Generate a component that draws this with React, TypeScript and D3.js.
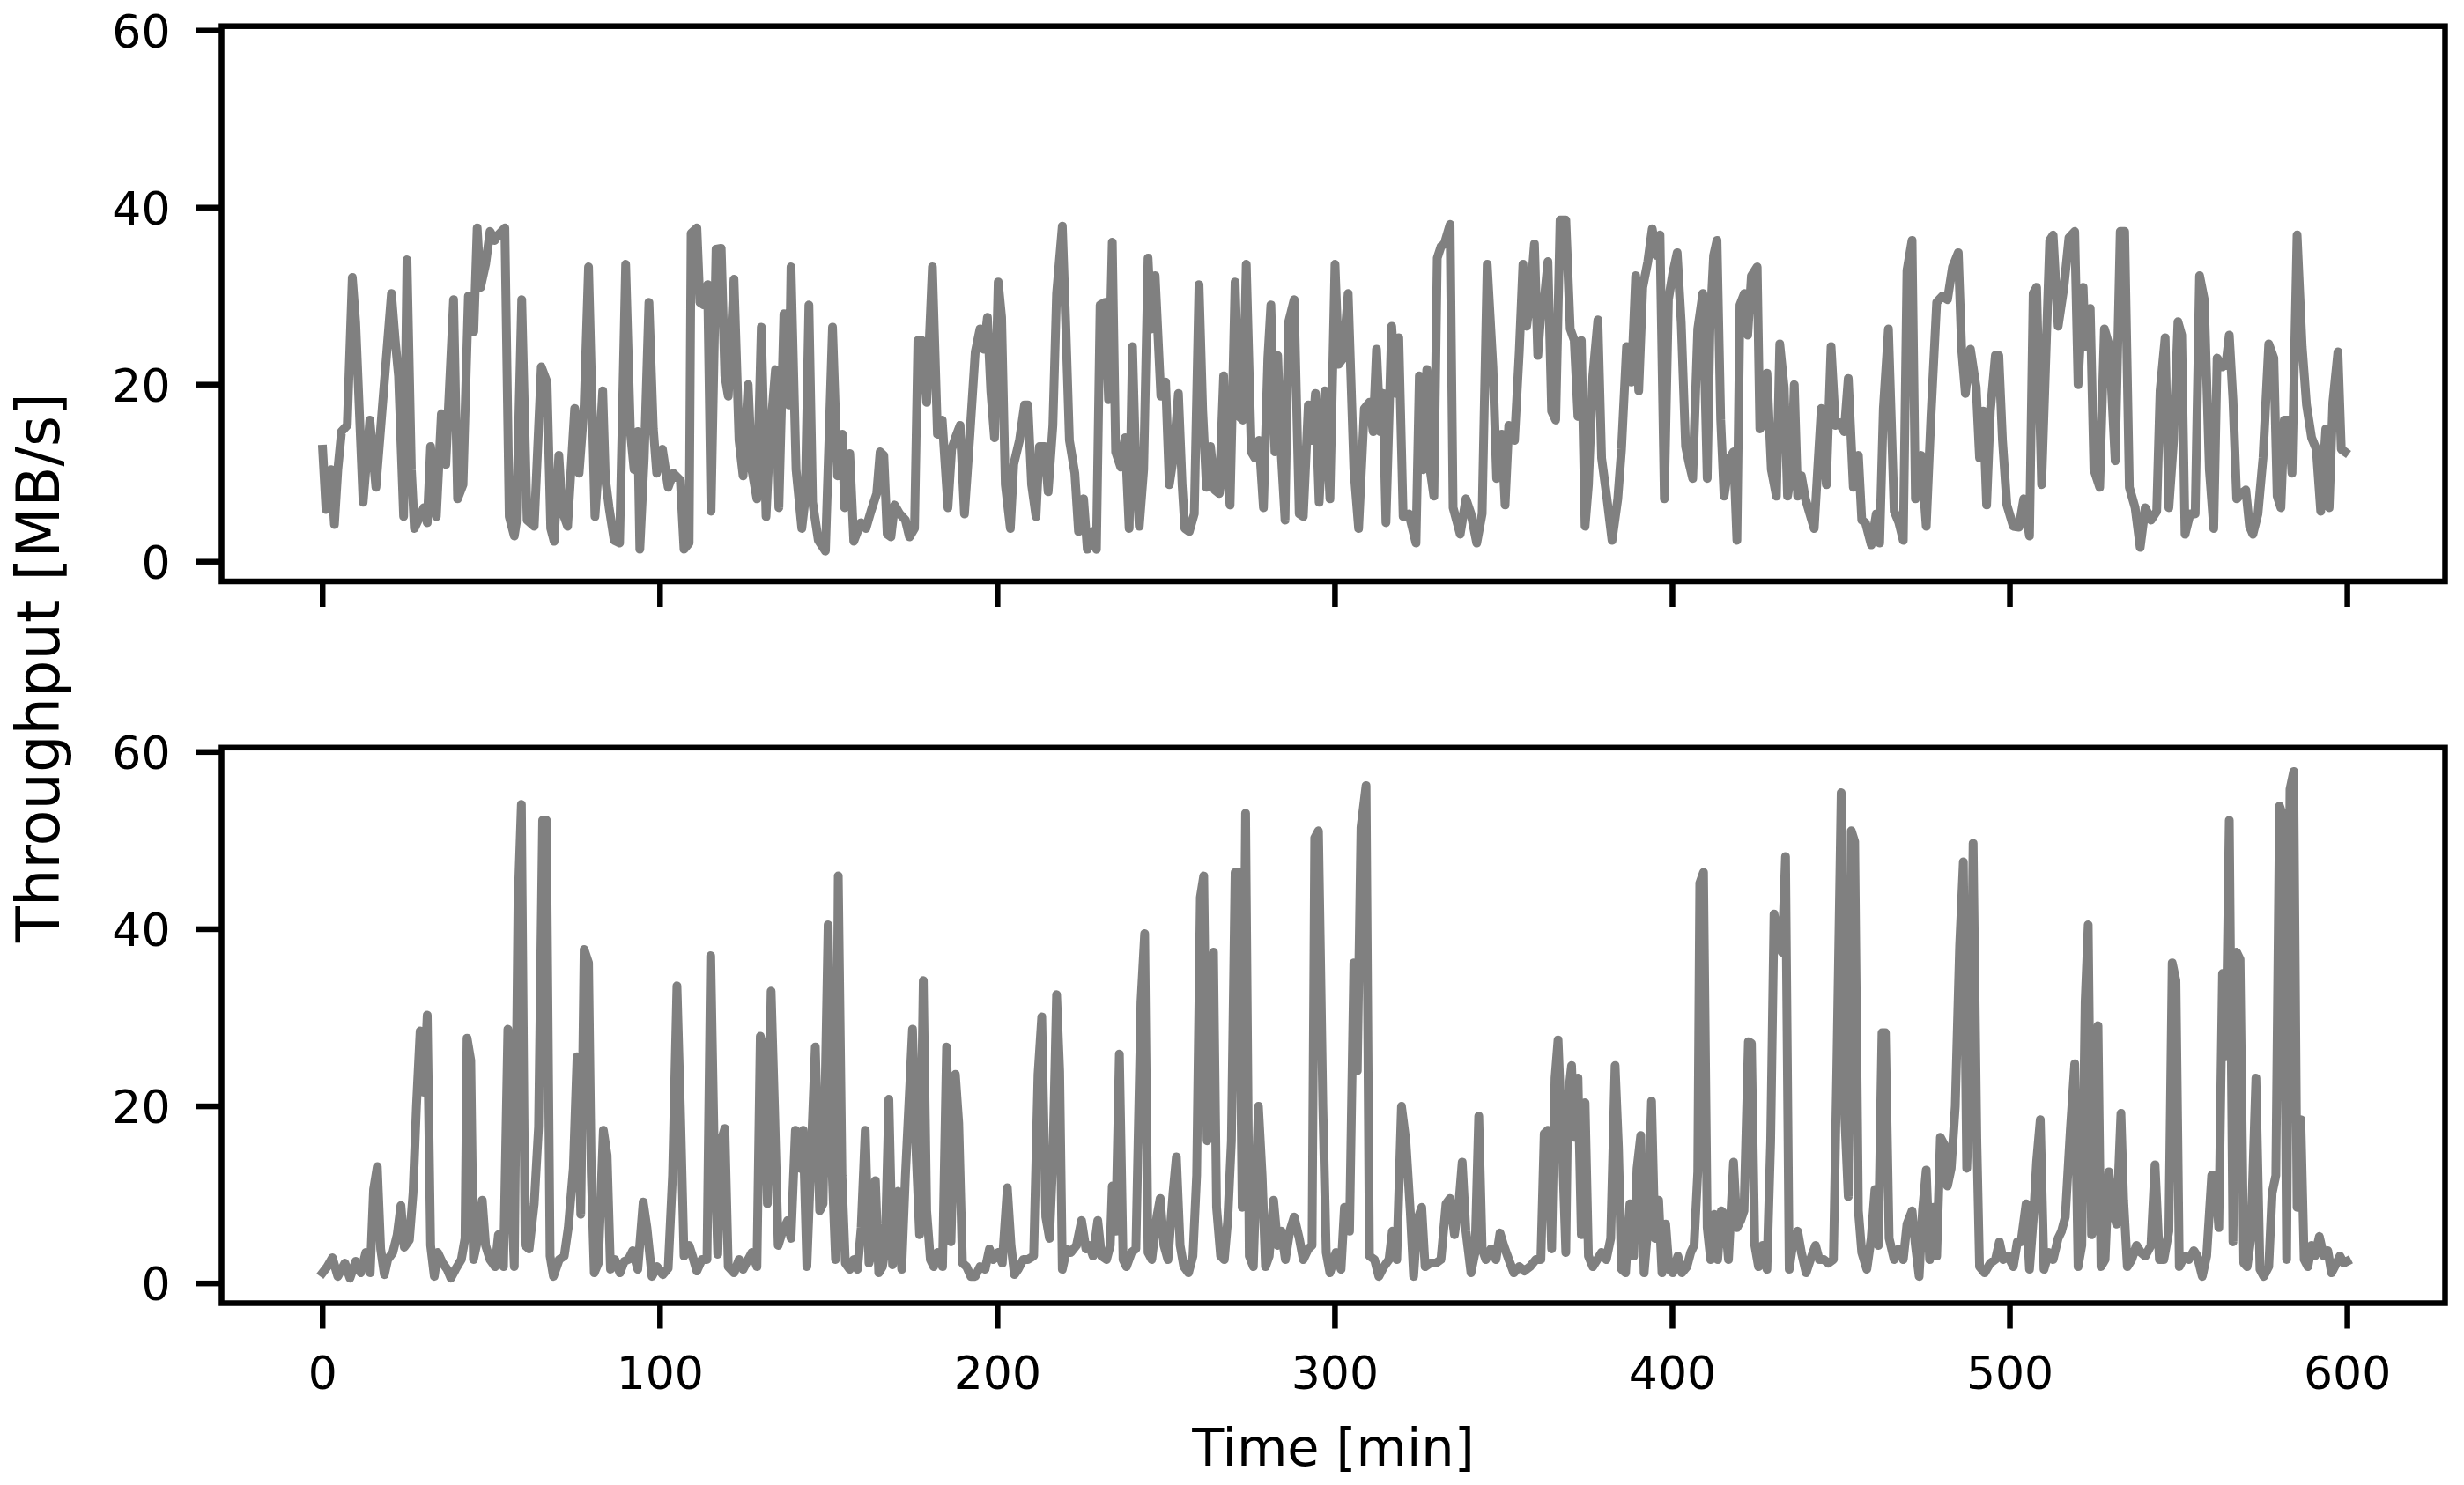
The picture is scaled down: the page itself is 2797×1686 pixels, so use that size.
import React from "react";
import * as d3 from "d3";

// ---- data ----
const topTime = [0,1,2.5,3.5,4.5,5.6,7.3,8.8,9.8,12,14,15.8,18.3,20.4,21.5,22.5,24,25,26.3,27.2,30,31,32,33.7,35.2,36.5,38.8,40,41.6,43.2,44.8,45.8,46.8,48.3,49.6,51,52,54,55.3,56.8,57.4,59,60.6,62.7,64.8,66.5,67.6,68.6,70,71,72.6,74.7,76,77.5,78.8,80.7,81.7,83,83.8,84.9,86.4,88,89.8,91.2,92.3,93.4,94,95.3,96.7,98,99,100.7,102.4,103.9,106,107.1,108.6,109.2,110.9,111.8,113,114.1,115.1,116.6,118.1,119.2,120.2,121.9,123.4,124.6,126.1,127.2,128.7,130,131.4,132.5,134.2,135.2,136.7,138.2,138.8,140.3,142,143,144.1,145.2,146.9,149,151.1,152.6,154,154.7,156.2,157.4,159.5,161,162.5,164.2,165.2,166.3,167.3,168.4,169.5,171,172.7,173.9,175.4,176.4,177.5,179,180.7,182.2,183.6,185.3,186.4,187.5,188.9,190.2,191.7,193.4,194.8,195.9,197,198,199.1,200.2,201.2,202.3,203.8,204.8,206.5,208,209,210.1,211.4,212.4,213.9,215,216.4,217.5,219.2,220.2,221.3,222.9,224,225.5,226.6,228,229.3,230.4,231.9,232.9,234,235,236.5,237.8,239,240,241,242,243.3,244.6,245.6,246.7,248.4,249.8,250.9,252.2,253.6,254.7,255.5,256.8,258.3,259.7,260.8,261.9,263.1,264.4,265.7,267,267.8,268.9,270.4,271.6,272.7,273.7,275.2,276.3,277.5,278.8,280.1,281,282.2,283,284.1,285.2,286.2,287.9,289.4,290.6,292.1,293.2,294.2,295.3,297,298.5,300,301.1,302.4,303.9,305.6,307,308.7,310.2,311.3,312.3,313.4,314.2,315.1,316.8,318.1,318.9,320.2,321.9,324,325,326.1,327.2,328.2,329.3,330.3,331.4,332.4,334.1,335,337.1,338.8,340.3,342,343.6,345.1,346.8,347.9,349.4,350.4,351.5,353.2,354.6,355.7,356.8,357.8,359.1,360.1,361.2,362,363.1,364.2,365.4,366.7,368.4,369.7,370.9,372,373,374.1,375.1,376.4,377.9,379,380.6,382.1,383.8,384.9,386.4,387.8,389.1,390,391.2,392.7,394,395.2,396.3,397.6,398.8,400.1,401.4,402.6,403.9,405,406,407.5,409,410.3,411.1,412.2,413.2,414.3,415.3,417,418.1,419.1,420,421.3,422.3,423.4,425.1,425.9,427,428,429.3,430.8,431.8,433.1,434.1,435.2,436.1,437.1,438.2,439.4,440.7,442,444.1,445.6,447,448.3,449.4,450.9,452.1,453.6,455.1,456.1,457.2,458.9,460.4,461.4,462.5,464,465.7,467.1,468.4,469.5,471,472,473.7,475.2,476.6,478.3,480,481.5,483,484.7,485.7,486.8,488.3,490,491,492.1,493.1,494.2,495.7,496.7,497.8,499.1,501,502.7,504.1,505.8,506.9,507.9,509.4,510.7,511.8,512.8,514.3,516,517.5,519.2,520.2,521.7,522.3,523.8,524.9,526.6,528,529.5,531.2,532.7,534,535.4,537.1,538.6,540.1,541.8,543.5,544.5,546,547.1,548.5,549.8,550.9,551.9,553.4,554.9,556.2,557.6,559.1,560.4,561.4,562.9,564,565,566.1,567.2,568.6,569.9,571,572,573.5,575,576.7,578.2,579.2,580.3,581.3,582.6,583.6,585.1,586.6,587.9,589.4,590.8,592.1,593.6,594.6,595.7,597.2,598.2,599.3];
const topThroughput = [12.7,5.9,10.4,4.2,10.4,14.7,15.4,32.1,27,6.7,16,8.4,20.3,30.3,25,21,5.1,34.1,10.4,3.75,6.1,4.4,13,5.1,16.7,11,29.6,7.1,8.7,30,26,37.7,31,33.6,37.3,36.3,36.9,37.7,5.1,2.9,4.4,29.6,4.7,4,22,20.3,3.75,2.3,12,5.7,4,17.3,10,17.7,33.3,5.1,10.4,19.3,9.4,6.1,2.4,2.1,33.6,14.7,10.4,14.7,1.4,11.7,29.3,15,10,12.7,8.4,10,9.2,1.4,2.1,37.1,37.7,29.3,29,31.3,5.7,35.3,35.4,21,18.7,31.9,13.7,9.7,20,10.4,7.1,26.5,5.1,13.7,21.7,6.1,28,17.7,33.3,10.4,3.75,7.1,29,6.7,2.4,1.2,26.5,9.7,14.4,6.1,12.2,2.3,4.4,3.75,5.7,7.7,12.4,12,3.1,2.8,6.4,5.4,4.7,2.8,3.75,25,25,18,33.3,14.4,16,6.1,12.7,14,15.4,5.4,13.7,23.7,26.3,24,27.6,19.3,14,31.6,27.6,8.7,3.75,11,13.7,17.7,17.7,8.7,5.1,13,13,7.9,15.4,30.3,37.9,27,13.7,10,3.4,7.1,1.4,3.4,1.4,29,29.3,18.3,36.1,12.4,10.7,14,3.75,24.3,10.4,4,10.4,34.3,26.3,32.3,18.7,20.3,8.7,12,19,8.7,3.75,3.4,5.4,31.3,17,8.4,13,8.1,7.7,21,10.4,6.4,31.6,16.4,16,33.6,12.4,11.7,13.7,6.1,23,29,12.4,23.3,12,4.7,27,29.6,5.4,5.1,17.7,13.7,19,6.7,19.3,7.1,33.6,22.3,23,30.3,10.4,3.75,17.3,18,14.7,24,14.7,19,4.4,26.6,19,25.3,5.1,5.4,2.1,21,10.4,21.7,10.4,7.4,34.3,35.6,35.9,38.1,6.1,3.1,7.1,5.4,2.1,5.4,33.6,22,9.4,14.4,6.4,15.4,13.7,23.7,33.6,26.6,29.6,35.9,23.3,29,29.6,33.9,17,16,38.6,38.6,26.3,25,16.4,25,4,8.7,21,27.3,11.7,7.1,2.4,7.1,12.7,24.3,20.3,32.3,19.3,31,33.9,37.6,34.6,36.9,7.1,29.6,32.6,34.9,27,13,11,9.4,26.3,30.3,9.4,26.3,34.6,36.3,16,7.4,11.7,12.4,2.4,29,30.3,25.6,32.3,33.3,15,15.7,21.3,10.4,7.4,24.6,19.7,7.4,10,20,7.4,9.7,7.1,5.4,3.75,17.3,8.7,24.3,15.4,15.7,14.7,20.7,8.4,12,4.7,4.4,1.9,5.4,2.1,17.3,26.3,5.7,4.4,2.4,32.9,36.3,7.1,12,4,16.4,29.3,30,29.6,33.3,34.9,24,19,24,19.7,11.7,17,6.4,17,23.3,23.3,13.7,6.4,4,3.9,7.1,2.9,30.3,31,8.7,23.7,36.3,36.9,26.6,31,36.6,37.3,20,31,24.3,28.6,10.4,8.4,26.3,24.3,11.4,37.3,37.3,8.4,6.1,1.6,6.1,4.7,5.7,19.3,25.3,6.1,13.7,27.1,25.6,3.1,5.4,5.4,32.3,29.6,10.4,3.75,23,22,22.3,25.6,18.3,7.1,7.7,8.1,4,3.1,5.4,11.7,24.6,23,7.4,6.1,16,16,10,36.9,24.3,17.7,14,12.7,5.7,15,6.1,18,23.7,12.7,12.4];

const bottomTime = [0,1.4,2.9,4.5,6.6,8.1,9.8,11.3,12.8,14.1,15.1,16.2,17.2,18.3,19.3,20.8,22.1,23.2,24.2,25.7,26.8,27.8,28.9,30,31,32,33.1,34.1,35.6,36.9,38,39.4,41.1,42.2,42.8,43.9,44.7,45.8,47.3,48.3,49.6,51.1,52.1,53.6,54.9,55.7,56.8,57.9,58.9,60,61.2,62.7,64,65.2,66.3,67.4,68.4,70.1,71.6,72.8,74.3,75.4,76.5,77.5,78.8,79.6,80.5,81.7,83.2,84.3,85.3,86.6,88.1,89.4,90.6,91.9,93.4,95,96.1,97.6,99.1,100.8,102.4,103.7,105,106,107.1,108.6,109.6,110.9,112.4,113.9,115,116,117.1,118.1,119.2,120.2,121.9,123.4,124.6,126.1,127.2,128.7,129.7,130.8,131.8,132.9,133.9,135,136.3,137.8,138.8,140.1,141.4,142.4,143.5,144.8,146,147.3,148.3,149.8,150.9,152,152.8,153.9,154.9,156.2,157.4,158.5,159.6,160.8,161.9,162.7,163.8,164.8,165.9,166.7,167.8,168.9,169.7,170.5,171.6,172.7,173.7,174.8,175.9,176.9,178,179,180.1,181.1,182.2,183.7,184.9,186.2,187.5,188.5,189.6,190.8,192.1,193.4,194.8,196.3,197.6,198.7,200.2,201.4,202.9,204,205,206.1,207.6,209,210.7,212,213.1,214.3,215.4,216.4,217.5,218.4,219.2,220.5,221.7,223.4,224.9,226.2,227.2,228.3,229.7,230.8,232.3,233.4,234,235,236.1,237.2,238.2,239.7,241,242.5,243.6,244.6,245.7,247.2,248.2,249.3,250.5,252,253,254.1,255.2,256.6,257.9,259,260.1,261.1,262.1,263.2,264,264.9,266.1,267.2,268.2,269.3,270.4,271.4,272.5,273.5,274.6,275.8,277.3,278.4,279.4,280.5,281.8,283,284.1,285.3,286.6,287.9,289.4,290.6,292.1,293.2,294,295.1,296.4,297.4,298.5,300.3,301.8,302.8,304.3,305.6,306.6,307.7,309.2,310.2,311.7,313,314.5,316,317,318.3,319.7,321,322.3,323.3,324.4,325.7,326.7,328.2,329.9,331.4,332.9,334.1,335.4,336.7,337.7,338.8,340.3,341.5,342.6,343.6,344.7,346.2,347.7,348.9,350,351.5,353,354.6,356.1,357.8,359.5,361,362,363.1,364.2,365.2,366.1,367.3,368.4,369,370.1,370.9,372,373,374.1,375.1,376.4,377.7,379,380.4,381.7,383,384,384.9,386.1,387.4,388.5,389.5,390.6,391.6,392.7,393.8,394.8,395.9,396.9,398,399,400.1,401.6,402.8,404.3,405.4,406.4,407.5,408.1,409.2,410.3,411.3,412.4,413.4,414.5,415.5,416.6,418.1,419.1,420.2,421.2,422.5,423.4,424.4,425.5,426.7,428,429.1,430.1,431.4,432.5,433.5,434.6,435.6,437.1,438.2,439.6,440.9,442.4,443.5,444.9,446.2,447.7,448.7,450,451.1,452.1,453,454,455.1,456.1,457.6,458.9,460,461,462.1,463.1,464.2,465.7,467.1,468.4,469.5,471,472,473.1,474.1,475.2,476.2,477.3,478.3,479.4,480.5,481.5,482.6,483.8,485.1,486.2,487.2,488.3,489.1,490.2,491,492.5,494.2,495.7,496.9,498,499.5,501,502.2,503.3,504.8,505.8,507.1,507.9,509,510.1,511.5,512.8,514.3,515.3,516.4,517.9,519.2,520.2,521.3,522.3,523.2,524.2,525.3,526.1,527,528.2,529.3,530.4,531.6,532.9,533.7,534.8,536.1,537.5,538.8,540.1,541.8,543,544.3,545.6,547.1,548.1,549.2,550.2,551.7,553,554.5,555.5,557,558.3,559.8,560.8,561.9,563,564,565,566.1,567.2,568.2,569.3,570.3,571.4,572.9,574.1,575.2,576.7,577.7,578.8,579.9,581,582,583,584.1,585.1,586.2,587.2,588.3,589.4,590.4,591.7,593,594.2,595.3,596.8,597.8,598.9,599.9];
const bottomThroughput = [1.2,1.9,2.9,0.8,2.3,0.6,2.5,1.2,3.5,1.2,10.6,13.2,3.9,1,2.7,3.5,5.5,8.8,4.1,4.9,10.2,20,28.5,21.6,30.3,4.3,0.8,3.5,2.3,1.6,0.6,1.6,2.7,5.1,27.7,25.2,2.7,4.7,9.4,4.3,2.7,1.9,5.5,1.9,28.7,12.2,1.9,42.9,54.1,4.3,3.9,9,17.7,52.3,52.3,3.1,0.8,2.7,3.1,6.3,13,25.6,7.8,37.7,36.2,12.6,1.2,2.3,17.3,14.5,1.6,2.7,1.2,2.5,2.7,3.7,1.6,9.2,6.3,0.8,1.9,1,1.7,12.2,33.6,20,3.1,4.3,3.1,1.4,2.7,2.7,37,16.1,3.3,16.1,17.5,1.9,1.2,2.7,1.6,2.7,3.5,1.9,27.9,26.3,9,33,20,4.3,5.9,7.1,5.1,17.3,13,17.3,1.9,14.9,26.7,8.2,9,40.5,13.7,2.7,46,12.2,2.3,1.6,2.7,1.6,6.3,17.3,2.3,3.5,11.6,1.2,1.9,3.9,20.8,2.1,10.2,10.4,1.6,12.2,20,28.7,14.5,5.5,34.2,8.2,2.7,1.9,3.5,1.9,26.7,4.7,23.6,18.1,2.3,1.9,0.8,0.8,1.9,1.6,3.9,2.7,3.5,2.3,10.8,4.3,1,1.6,2.7,2.7,3.1,23.6,30.1,7.5,5.1,14.1,32.6,24,1.6,3.9,3.5,4.3,7.1,3.9,4.3,3.1,7.1,3.1,2.7,4.3,11,5.9,25.9,2.7,1.9,3.5,3.9,31.8,39.5,3.5,2.7,7.5,9.6,4.3,2.7,10.2,14.3,4.3,1.9,1.2,3.1,12.2,43.6,46,16.1,33.8,37.4,8.6,3.1,2.7,7.1,16.1,46.4,46.4,8.6,53.1,3.1,1.9,20,12.2,1.9,3.1,9.4,4.3,5.9,2.7,5.9,7.5,5.1,2.7,3.9,4.3,50.3,51.1,20,3.5,1.2,3.5,1.6,8.6,5.9,36.2,24,51.5,56.2,3.1,2.7,0.8,1.9,2.7,5.9,2.7,20,16.1,8.2,0.8,7.1,8.6,1.9,2.3,2.3,2.7,9,9.6,5.5,9,13.7,5.9,1.2,3.5,18.9,3.9,2.7,3.9,2.7,5.7,4.3,2.7,1.2,1.9,1.4,1.9,2.7,2.7,16.9,17.3,3.9,23.2,27.5,16.1,3.5,20.8,24.6,16.5,23.2,5.5,20.4,3.1,1.9,2.7,3.5,2.7,5.1,24.6,15.3,1.6,1.2,9,3.1,13,16.7,1.2,6.3,20.6,5.1,9.4,1.2,6.7,1.6,1.2,3.1,1.2,1.9,3.5,4.3,12.6,45.2,46.4,6.3,2.7,7.8,2.7,8.2,7.8,2.7,13.7,6.3,7.1,8.2,27.3,27.1,4.3,1.9,4.3,1.6,16.1,41.7,38.9,37.4,48.2,1.6,4.3,5.9,3.5,1.2,2.7,4.3,2.7,2.7,2.3,2.7,24,55.4,18.5,9.8,51.1,49.9,8.2,3.5,1.6,5.1,10.6,4.3,28.3,28.3,5.1,2.7,3.9,2.7,6.7,8.2,4.3,0.8,8.2,12.8,2.7,8.6,3.1,16.5,15.7,11,13,20,38.1,47.6,13,24,49.7,16.1,1.9,1.2,2.3,2.7,4.7,2.7,3.1,1.9,4.7,4.7,9,1.6,8.2,13.7,18.5,1.6,3.5,2.7,5.1,5.9,7.5,17.3,24.8,1.9,4.3,31.8,40.5,5.5,6.7,29.1,1.9,2.7,12.6,8.2,6.7,19.2,9.4,1.9,2.7,4.3,3.5,3.1,4.3,13.4,2.7,2.7,5.9,36.2,34.2,1.9,3.1,2.7,3.7,3.1,0.8,3.1,12.2,12.2,6.3,35,25.6,52.3,4.7,37.4,36.6,2.3,1.9,5.1,23.2,1.6,0.8,1.9,10.2,12.2,53.9,52.7,2.7,55.8,57.8,8.6,18.5,2.7,1.9,4.3,3.1,5.3,3.1,3.7,1.2,2.3,3.1,2.3,2.5];

const xTicks = [0, 100, 200, 300, 400, 500, 600];
const yTicks = [0, 20, 40, 60];
const xLabel = "Time [min]";
const yLabel = "Throughput [MB/s]";

const W = 2797;
const H = 1686;
const FONT = "'DejaVu Sans', sans-serif";
const LEFT = 251.5;
const RIGHT = 2775.5;
const panels = [
  { top: 29.7, bottom: 660, t: topTime, v: topThroughput, labels: false },
  { top: 848.8, bottom: 1479.5, t: bottomTime, v: bottomThroughput, labels: true },
];

const x = d3.scaleLinear().domain([-29.95, 628.95]).range([LEFT, RIGHT]);

function Panel({ p }: { p: (typeof panels)[number] }) {
  const y = d3.scaleLinear().domain([-2.22, 60.5]).range([p.bottom, p.top]);
  const pts: [number, number][] = p.t.map((t, i) => [t, p.v[i]]);
  const line = d3
    .line<[number, number]>()
    .x((d) => x(d[0]))
    .y((d) => y(d[1]));
  const TL = 29;
  const SW = 6.5;
  return (
    <g>
      <path
        d={line(pts) || ""}
        fill="none"
        stroke="#808080"
        strokeWidth={10}
        strokeLinejoin="round"
        strokeLinecap="square"
      />
      <rect
        x={LEFT}
        y={p.top}
        width={RIGHT - LEFT}
        height={p.bottom - p.top}
        fill="none"
        stroke="#000"
        strokeWidth={SW}
      />
      {yTicks.map((t) => (
        <g key={"y" + t}>
          <line x1={LEFT - TL} x2={LEFT} y1={y(t)} y2={y(t)} stroke="#000" strokeWidth={SW} />
          <text
            x={193.5}
            y={y(t) + 19}
            textAnchor="end"
            fontFamily={FONT}
            fontSize={52}
            fill="#000"
          >
            {t}
          </text>
        </g>
      ))}
      {xTicks.map((t) => (
        <g key={"x" + t}>
          <line x1={x(t)} x2={x(t)} y1={p.bottom} y2={p.bottom + TL} stroke="#000" strokeWidth={SW} />
          {p.labels && (
            <text
              x={x(t)}
              y={p.bottom + 97.5}
              textAnchor="middle"
              fontFamily={FONT}
              fontSize={52}
              fill="#000"
            >
              {t}
            </text>
          )}
        </g>
      ))}
    </g>
  );
}

export default function App() {
  return (
    <svg
      width={W}
      height={H}
      viewBox={`0 0 ${W} ${H}`}
      style={{ position: "absolute", left: 0, top: 0, background: "#fff" }}
    >
      <rect x={0} y={0} width={W} height={H} fill="#fff" />
      {panels.map((p, i) => (
        <Panel key={i} p={p} />
      ))}
      <text
        x={(LEFT + RIGHT) / 2}
        y={1664}
        textAnchor="middle"
        fontFamily={FONT}
        fontSize={59}
        fill="#000"
      >
        {xLabel}
      </text>
      <text
        transform="translate(67,758) rotate(-90)"
        textAnchor="middle"
        fontFamily={FONT}
        fontSize={67}
        fill="#000"
      >
        {yLabel}
      </text>
    </svg>
  );
}
